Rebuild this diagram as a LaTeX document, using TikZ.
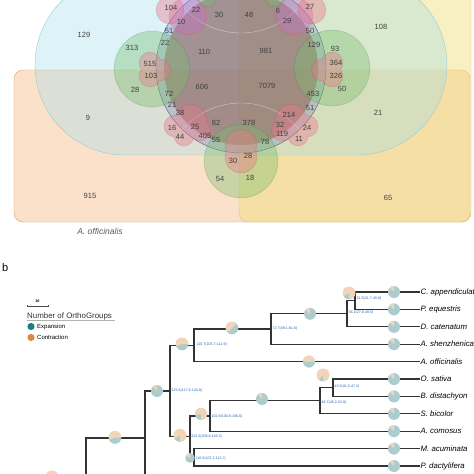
\documentclass[tikz,border=0pt]{standalone}
\usepackage{fontspec}
\setmainfont{Liberation Sans}
\usepackage{xcolor}
\usepackage{tikz}

\definecolor{peachF}{RGB}{248,196,150}
\definecolor{peachD}{RGB}{214,160,105}
\definecolor{yellowF}{RGB}{242,222,120}
\definecolor{yellowD}{RGB}{222,196,110}
\definecolor{cyanF}{RGB}{160,222,236}
\definecolor{cyanD}{RGB}{150,205,220}
\definecolor{centF}{RGB}{110,130,190}
\definecolor{centD}{RGB}{80,95,110}
\definecolor{innerF}{RGB}{140,85,70}
\definecolor{greenF}{RGB}{120,190,110}
\definecolor{greenD}{RGB}{90,160,85}
\definecolor{pinkF}{RGB}{236,120,140}
\definecolor{pinkD}{RGB}{215,95,115}
\definecolor{violetF}{RGB}{200,110,200}
\definecolor{pieteal}{RGB}{172,204,206}
\definecolor{pieorange}{RGB}{243,212,182}
\definecolor{expcol}{RGB}{24,128,128}
\definecolor{concol}{RGB}{214,140,70}
\definecolor{agecol}{RGB}{40,100,170}

% pie of one node: x, y, radius, start angle, orange part
\newcommand{\ogpie}[5]{%
  \fill[pieteal] (#1,#2) circle (#3);
  \fill[pieorange] (#1,#2) -- ++(#4:#3) arc[start angle=#4, delta angle=#5, radius=#3] -- cycle;}

\begin{document}
\begin{tikzpicture}[x=1pt,y=-1pt,
    vnum/.style={font=\fontsize{7.5}{8}\selectfont, text=black!75, inner sep=0},
    branch/.style={draw=black!80, line width=1.2pt},
    agelab/.style={anchor=west, font=\fontsize{3.6}{4}\selectfont, text=agecol, inner sep=0.5pt},
    species/.style={anchor=west, font=\fontsize{7.8}{9}\selectfont\itshape, inner sep=0.5pt},
    greenset/.style={insert path={(152,69) circle (37) (332,68) circle (37) (241,161) circle (36)
      (207,-3) circle (9) (275,-3) circle (9)}},
    pinkset/.style={insert path={
      (150,63) circle (10) (150,76) circle (10) (160,70) circle (10)
      (332,63) circle (10) (332,76) circle (10) (322,70) circle (10)
      (170,10) circle (13) (312,10) circle (13)
      (175,126) circle (10) (184,136) circle (9) (191,120) circle (15) (200,130) circle (10)
      (307,126) circle (10) (298,136) circle (9) (291,120) circle (15) (282,130) circle (10)
      (241,157) circle (15) (241,145) circle (15)}},
    violetset/.style={insert path={(188,16) circle (18) (294,16) circle (18)}}]
\useasboundingbox (0,0) rectangle (474,474);
\clip (0,0) rectangle (474,474);
\fill[white] (0,0) rectangle (474,474);

% Venn diagram
\filldraw[fill=peachF, fill opacity=.5, draw=peachD, rounded corners=9] (14,70) rectangle (470,222);
\filldraw[fill=yellowF, fill opacity=.45, draw=yellowD, rounded corners=9] (239,-30) rectangle (471,222);
\filldraw[fill=cyanF, fill opacity=.35, draw=cyanD, rounded corners=90] (35,-25) rectangle (447,155);
\filldraw[fill=centF, fill opacity=.3, draw=centD] (241,68) circle (85);
\fill[innerF, fill opacity=.5] (241,68) circle (77);
\begin{scope}
  \clip (241,68) circle (85);
  \draw[white, opacity=.5] (241,-45) circle (78) (241,181) circle (78);
\end{scope}
\begin{scope}[transparency group, opacity=.38]
  \draw[greenD, line width=2.4pt, greenset];
  \fill[greenF, greenset];
\end{scope}
\begin{scope}[transparency group, opacity=.4]
  \draw[pinkD, line width=2.4pt, violetset];
  \fill[violetF, violetset];
\end{scope}
\begin{scope}[transparency group, opacity=.4]
  \draw[pinkD, line width=2.4pt, pinkset];
  \fill[pinkF, pinkset];
\end{scope}

\foreach \t/\x/\y [count=\i] in {129/84/35, 104/171/8, 22/196/10, 10/181/22, 30/219/15,
    51/169/31, 22/165/43, 313/132/48, 110/204/52, 515/150/64, 103/151/76, 28/135/90,
    72/169/94, 606/202/87, 21/172/105, 38/180/113, 9/88/118, 82/216/123, 16/172/128,
    25/195/127, 44/180/137, 405/205/136, 55/216/140, 48/249/15, 6/278/11, 27/310/7,
    29/287/21, 108/381/27, 50/310/31, 129/314/45, 93/335/49, 981/266/51, 364/336/63,
    326/336/76, 7079/267/86, 50/342/89, 453/313/94, 51/310/108, 21/378/113, 214/289/115,
    378/249/123, 32/280/125, 24/307/128, 119/282/134, 11/299/139, 78/265/142, 28/248/156,
    30/233/161, 54/220/179, 18/250/178, 915/90/196, 65/388/198}
  \node[vnum] (v\i) at (\x,\y) {\t};
\node[font=\fontsize{8.5}{9}\selectfont\itshape, text=black!65] (aoffname) at (100,231) {A. officinalis};

% panel b
\node[font=\fontsize{11}{12}\selectfont, anchor=west, inner sep=0] (blabel) at (2,268) {b};
\node[font=\fontsize{3.8}{4}\selectfont\bfseries, inner sep=0] (scalelab) at (37.5,301.5) {10};
\draw[black!70, line width=.7pt] (27,304.5) -- (27,306) -- (48,306) -- (48,304.5);
\node[font=\fontsize{7.9}{8}\selectfont, text=black!80, anchor=west, inner sep=0] (legtitle) at (27,316) {Number of OrthoGroups};
\draw[black!30] (27,320.5) -- (115,320.5);
\fill[expcol] (31,326.5) circle (3.6);
\node[font=\fontsize{6}{7}\selectfont, anchor=west, inner sep=0] (legexp) at (37,326.5) {Expansion};
\fill[concol] (31,337.5) circle (3.6);
\node[font=\fontsize{6}{7}\selectfont, anchor=west, inner sep=0] (legcon) at (37,337.5) {Contraction};

% tree
\node[species] (sCapp) at (420,292) {C. appendiculata};
\node[species] (sPeq) at (420,309.4) {P. equestris};
\node[species] (sDcat) at (420,326.8) {D. catenatum};
\node[species] (sAshe) at (420,344.2) {A. shenzhenica};
\node[species] (sAoff) at (420,361.6) {A. officinalis};
\node[species] (sOsat) at (420,379) {O. sativa};
\node[species] (sBdis) at (420,396.4) {B. distachyon};
\node[species] (sSbic) at (420,413.8) {S. bicolor};
\node[species] (sAcom) at (420,431.2) {A. comosus};
\node[species] (sMacu) at (420,448.6) {M. acuminata};
\node[species] (sPdac) at (420,466) {P. dactylifera};

\coordinate (nCP) at (355,300.7);
\coordinate (nCPD) at (347,313.75);
\coordinate (nOrch) at (271,329);
\coordinate (nAsp) at (194,345.3);
\coordinate (nGr2) at (333,387.7);
\coordinate (nGr) at (320,400.75);
\coordinate (nPoa) at (210,416);
\coordinate (nMP) at (194,457.3);
\coordinate (nCom) at (190,436.6);
\coordinate (nMono) at (170,391);
\coordinate (nUp) at (145,438);
\coordinate (nRoot) at (86,477);
\coordinate (cLowA) at (200,485);
\coordinate (cLowB) at (150,516);
\coordinate (cStem) at (20,477);

\draw[branch] (nCP) |- (sCapp.west) (nCP) |- (sPeq.west);
\draw[branch] (nCPD) |- (nCP) (nCPD) |- (sDcat.west);
\draw[branch] (nOrch) |- (nCPD) (nOrch) |- (sAshe.west);
\draw[branch] (nAsp) |- (nOrch) (nAsp) |- (sAoff.west);
\draw[branch] (nGr2) |- (sOsat.west) (nGr2) |- (sBdis.west);
\draw[branch] (nGr) |- (nGr2) (nGr) |- (sSbic.west);
\draw[branch] (nPoa) |- (nGr) (nPoa) |- (sAcom.west);
\draw[branch] (nMP) |- (sMacu.west) (nMP) |- (sPdac.west);
\draw[branch] (nCom) |- (nPoa) (nCom) |- (nMP);
\draw[branch] (nMono) |- (nAsp) (nMono) |- (nCom);
\draw[branch] (nUp) |- (nMono) (nUp) |- (cLowA);
\draw[branch] (nRoot) |- (nUp) (nRoot) |- (cLowB);
\draw[branch] (cStem) -- (nRoot);

% pies
\foreach \y in {292,309.4,326.8,344.2,379,396.4,413.8,431.2,448.6,466}
  {\ogpie{394}{\y}{6}{270}{-45}}
\ogpie{309}{361.6}{6}{0}{-180}
\ogpie{349}{293}{6.3}{90}{-300}
\ogpie{310}{313.75}{6}{270}{-50}
\ogpie{232}{328}{6.3}{315}{-180}
\ogpie{182}{344}{6.3}{0}{-200}
\ogpie{157}{391}{6}{270}{-40}
\ogpie{262}{399}{6}{270}{-40}
\ogpie{323}{375}{6.3}{90}{-320}
\ogpie{201}{414}{6}{90}{-280}
\ogpie{180}{435.5}{6.3}{90}{-300}
\ogpie{190}{458}{4.8}{270}{-60}
\ogpie{115}{437.5}{6.3}{0}{-200}
\ogpie{52}{477}{6.3}{90}{-300}

% ages
\node[agelab] (a1) at (356,299) {31.5(21.7-45.8)};
\node[agelab] (a2) at (348,313) {36.1(27.6-49.5)};
\node[agelab] (a3) at (272,329) {72.7(49.1-81.6)};
\node[agelab] (a4) at (196,345) {110.7(105.7-112.9)};
\node[agelab] (a5) at (171,391) {123.4(117.9-128.9)};
\node[agelab] (a6) at (211,417) {102.9(100.8-106.6)};
\node[agelab] (a7) at (191,437) {113.3(108.8-116.3)};
\node[agelab] (a8) at (195,459) {110.5(107.2-113.7)};
\node[agelab] (a9) at (334,387) {43.5(41.5-47.2)};
\node[agelab] (a10) at (321,403) {46.7(45.2-52.0)};
\end{tikzpicture}
\end{document}
